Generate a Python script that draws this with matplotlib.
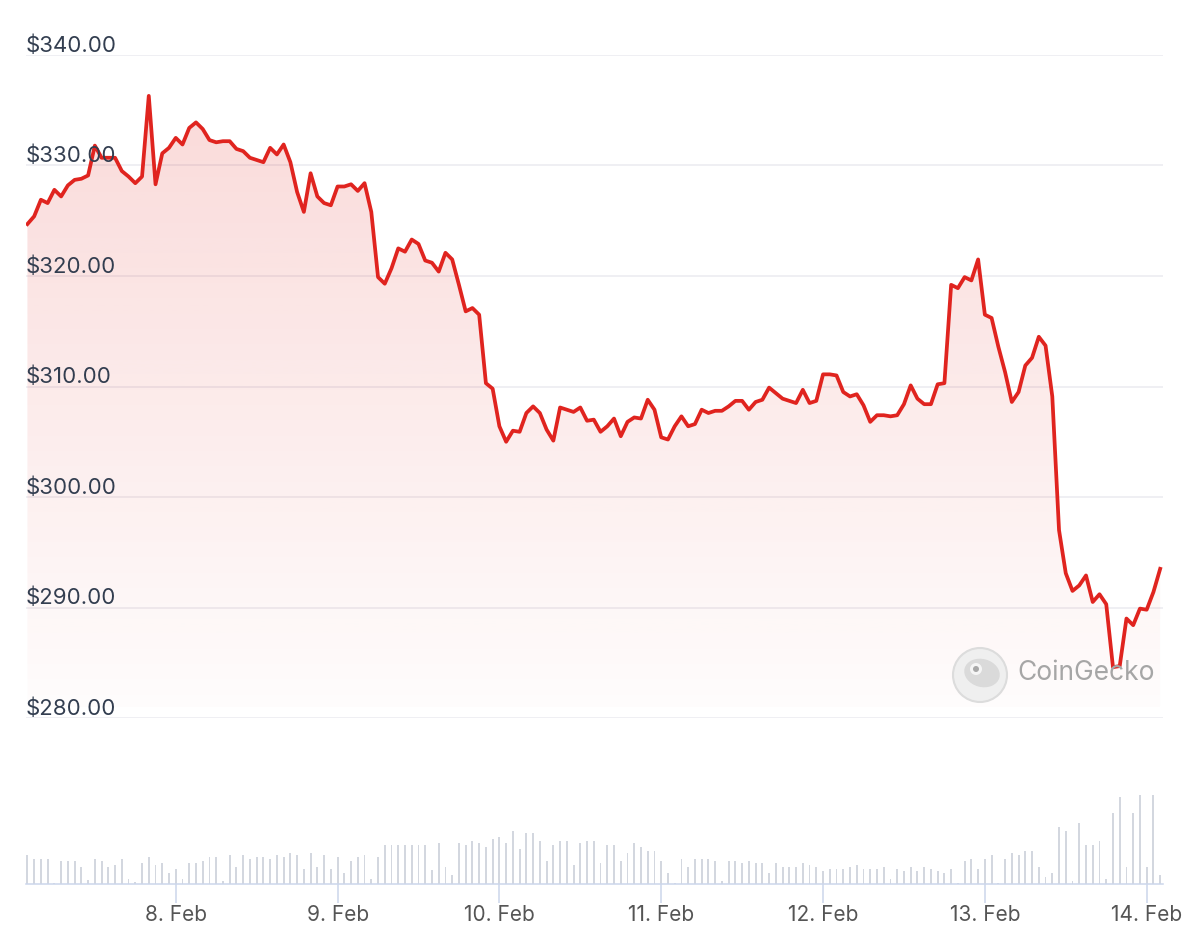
import numpy as np
import pandas as pd
import matplotlib
matplotlib.use("Agg")
import matplotlib.pyplot as plt
import matplotlib.dates as mdates
from matplotlib.patches import Circle, Ellipse, Polygon

# hourly BNB price (USD), 7 Feb 02:00 -> 14 Feb 02:00
prices = [
    324.7, 325.4, 326.9, 326.6, 327.8, 327.2, 328.2, 328.7, 328.8, 329.1,
    331.8, 330.7, 330.7, 330.7, 329.5, 329.0, 328.4, 329.0, 336.3, 328.3,
    331.1, 331.6, 332.5, 331.9, 333.4, 333.9, 333.3, 332.3, 332.1,
    332.2, 332.2, 331.5, 331.3, 330.7, 330.5, 330.3, 331.6, 331.0, 331.9,
    330.3, 327.6, 325.8, 329.3, 327.2, 326.6, 326.4, 328.1, 328.1, 328.3,
    327.7, 328.4, 325.8, 319.9, 319.3, 320.7, 322.5, 322.2,
    323.3, 322.9, 321.4, 321.2, 320.4, 322.1, 321.5, 319.2, 316.8, 317.1,
    316.5, 310.3, 309.8, 306.4, 305.0, 306.0, 305.9, 307.6, 308.2, 307.6,
    306.1, 305.1, 308.1, 307.9, 307.7, 308.1, 306.9, 307.0,
    305.9, 306.4, 307.1, 305.5, 306.8, 307.2, 307.1, 308.8, 307.9, 305.4,
    305.2, 306.4, 307.3, 306.4, 306.6, 307.9, 307.6, 307.8, 307.8, 308.2,
    308.7, 308.7, 307.9, 308.6, 308.8, 309.9, 309.4, 308.9, 308.7,
    308.5, 309.7, 308.5, 308.7, 311.1, 311.1, 311.0, 309.5, 309.1, 309.3,
    308.3, 306.8, 307.4, 307.4, 307.3, 307.4, 308.4, 310.1, 308.9, 308.4,
    308.4, 310.2, 310.3, 319.2, 318.9, 319.9, 319.6, 321.5, 316.5, 316.2,
    313.6, 311.3, 308.6, 309.5, 311.9, 312.6, 314.5, 313.7, 309.1, 297.0,
    293.1, 291.5, 292.0, 292.9, 290.5, 291.2, 290.3, 284.6, 284.7, 289.0,
    288.4, 289.9, 289.8, 291.4, 293.5,
]

# hourly volume (relative units)
volumes = [
    29, 25, 25, 25, 1, 23, 23, 23, 17, 4, 25, 23, 17, 19, 25, 5, 2, 21, 27, 19,
    21, 11, 15, 5, 21, 21, 23, 27, 27, 3, 29, 17, 29, 25, 27, 27, 25, 29, 27, 31,
    29, 15, 31, 17, 29, 15, 27, 11, 23, 27, 29, 5, 27, 39, 39, 39,
    39, 39, 39, 39, 14, 41, 17, 9, 41, 39, 43, 41, 37, 45, 47, 41, 53, 35, 51, 51,
    43, 23, 39, 43, 43, 19, 41, 43, 43, 21, 39, 39, 23, 31, 41, 37, 33, 33, 23, 11,
    1, 25, 17, 25, 25, 25, 23, 3, 23, 23, 21, 23, 21, 21, 11, 21, 17, 17, 17,
    21, 19, 17, 13, 15, 15, 15, 17, 19, 15, 15, 15, 17, 5, 15, 13, 17, 13, 17, 15,
    13, 11, 15, 1, 23, 25, 15, 25, 29, 1, 25, 31, 29, 33, 33, 17, 7, 11, 57, 53,
    3, 61, 39, 39, 43, 5, 71, 87, 17, 71, 89, 17, 89, 9,
]

price_ticks = [280, 290, 300, 310, 320, 330, 340]
start_time = "2023-02-07 02:00"

times = pd.date_range(start_time, periods=len(prices), freq="h")
x = mdates.date2num(times)
hour = 1 / 24.0
x0, x1 = x[0] - 0.21 * hour, x[-1] + 0.42 * hour

W, H = 1200, 951
fig = plt.figure(figsize=(W / 100, H / 100), dpi=100)


def rect(l, t, r, b):
    return [l / W, 1 - b / H, (r - l) / W, (b - t) / H]


red = "#e0241f"

# price panel
ax = fig.add_axes(rect(26, 55, 1163, 718))
ax.set_xlim(x0, x1)
ax.set_ylim(280, 340)
ax.axis("off")

for v in price_ticks:
    ax.axhline(v, color="#ebebf0", lw=1.1, zorder=0)
    ax.annotate(f"${v:.2f}", xy=(0, v), xycoords=("axes fraction", "data"),
                xytext=(0, 2.5), textcoords="offset points", ha="left",
                va="baseline", fontsize=16, color="#333e50", family="Inter",
                zorder=5)

# gradient area under the line
grad = np.zeros((256, 1, 4))
grad[..., :3] = matplotlib.colors.to_rgb(red)
grad[:, 0, 3] = np.linspace(0.18, 0.01, 256)
im = ax.imshow(grad, extent=[x0, x1, 280, 340], aspect="auto",
               origin="upper", zorder=1)
n = len(prices)
verts = np.column_stack([np.r_[x, x[::-1]],
                         np.r_[prices, np.full(n, 281.0)]])
poly = Polygon(verts, facecolor="none", edgecolor="none")
ax.add_patch(poly)
im.set_clip_path(poly)

ax.plot(x, prices, color=red, lw=2.7, zorder=3, solid_joinstyle="round")

# volume panel
vax = fig.add_axes(rect(26, 760, 1163, 884))
vax.set_xlim(x0, x1)
vax.set_ylim(0, 124)
vax.bar(x, volumes, width=0.28 * hour, color="#d3d7df", zorder=2)
for s in ["top", "left", "right"]:
    vax.spines[s].set_visible(False)
vax.spines["bottom"].set_color("#ccd6eb")
vax.spines["bottom"].set_linewidth(1.1)
vax.set_yticks([])
vax.xaxis.set_major_locator(mdates.DayLocator())
vax.xaxis.set_major_formatter(
    matplotlib.ticker.FuncFormatter(
        lambda v, p: f"{mdates.num2date(v).day}. Feb"))
vax.tick_params(axis="x", length=13.5, width=1.1, color="#ccd6eb", pad=1.5,
                labelsize=15, labelcolor="#555555")
for lbl in vax.get_xticklabels():
    lbl.set_family("Inter")

# CoinGecko watermark
logo_c = (980 / 100, (H - 675) / 100)
fig.patches.append(Circle(logo_c, 0.27, transform=fig.dpi_scale_trans,
                          facecolor="#efefef", edgecolor="#dcdcdc", lw=1.5))
fig.patches.append(Ellipse((logo_c[0] + 0.02, logo_c[1] + 0.02), 0.36, 0.28,
                           angle=-15, transform=fig.dpi_scale_trans,
                           facecolor="#dadada", edgecolor="none"))
fig.patches.append(Circle((logo_c[0] - 0.04, logo_c[1] + 0.06), 0.06,
                          transform=fig.dpi_scale_trans,
                          facecolor="#f5f5f5", edgecolor="none"))
fig.patches.append(Circle((logo_c[0] - 0.04, logo_c[1] + 0.06), 0.03,
                          transform=fig.dpi_scale_trans,
                          facecolor="#a8a8a8", edgecolor="none"))
fig.text(1017 / W, 1 - 673 / H, "CoinGecko", fontsize=19, color="#a6a6a6",
         va="center", ha="left", family="Inter")

fig.savefig("out.png", dpi=100, facecolor="white")
